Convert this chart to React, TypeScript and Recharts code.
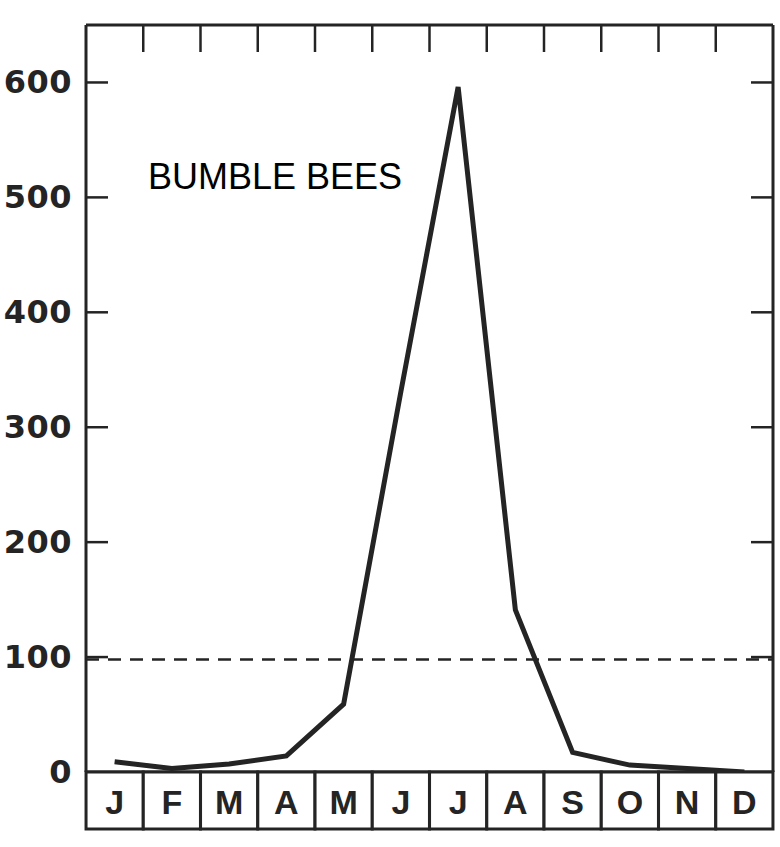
import React from 'react';
import { ComposedChart, Line, XAxis, YAxis, ReferenceLine } from 'recharts';

// monthly counts
const months = ['J', 'F', 'M', 'A', 'M', 'J', 'J', 'A', 'S', 'O', 'N', 'D'];
const beeCounts = [9, 3, 7, 14, 59, 331, 596, 141, 17, 6, 3, 0];
const yTicks = [0, 100, 200, 300, 400, 500, 600];
const innerTicks = [100, 200, 300, 400, 500, 600];
const monthIndex = [0, 1, 2, 3, 4, 5, 6, 7, 8, 9, 10, 11];
const monthBoundaries = [0.5, 1.5, 2.5, 3.5, 4.5, 5.5, 6.5, 7.5, 8.5, 9.5, 10.5];
const referenceLevel = 98;

const chartData = months.map((m, i) => ({ idx: monthIndex[i], month: m, bees: beeCounts[i] }));

const INK = '#242424';
const BOX_W = 686 / 12;

const MonthBox = (props: any) => {
    const { x, y, payload } = props;
    return (
        <g>
            <rect
                x={x - BOX_W / 2}
                y={y}
                width={BOX_W}
                height={57}
                fill="#fff"
                stroke={INK}
                strokeWidth={3}
            />
            <text
                x={x}
                y={y + 42}
                textAnchor="middle"
                fontFamily="'Liberation Sans', Arial, sans-serif"
                fontWeight="bold"
                fontSize={34}
                fill={INK}
            >
                {months[payload.value]}
            </text>
        </g>
    );
};

const YLabel = (props: any) => {
    const { x, y, payload } = props;
    return (
        <text
            x={x - 14}
            y={y + 11}
            textAnchor="end"
            fontFamily="'DejaVu Sans', sans-serif"
            fontWeight="bold"
            fontSize={32}
            letterSpacing={0.5}
            fill={INK}
        >
            {payload.value}
        </text>
    );
};

// tick lines only, no labels
const NoLabel = () => <g />;

const App: React.FC = () => {
    return (
        <div style={{ position: 'absolute', left: 0, top: 0, width: 780, height: 847, background: '#fff' }}>
            <ComposedChart
                width={780}
                height={847}
                data={chartData}
                margin={{ top: 25, right: 7, bottom: 17, left: 0 }}
            >
                <XAxis
                    dataKey="idx"
                    type="number"
                    domain={[-0.5, 11.5]}
                    allowDataOverflow
                    ticks={monthIndex}
                    interval={0}
                    height={58}
                    tickLine={false}
                    tickSize={0}
                    tickMargin={0}
                    axisLine={{ stroke: INK, strokeWidth: 3 }}
                    tick={<MonthBox />}
                />
                <XAxis
                    xAxisId="top"
                    dataKey="idx"
                    orientation="top"
                    mirror
                    type="number"
                    domain={[-0.5, 11.5]}
                    allowDataOverflow
                    ticks={monthBoundaries}
                    interval={0}
                    tick={<NoLabel />}
                    tickSize={27}
                    tickLine={{ stroke: INK, strokeWidth: 2.5 }}
                    axisLine={{ stroke: INK, strokeWidth: 3 }}
                />
                <YAxis
                    width={86}
                    domain={[0, 650]}
                    allowDataOverflow
                    ticks={yTicks}
                    interval={0}
                    tickLine={false}
                    tickSize={0}
                    tickMargin={0}
                    axisLine={{ stroke: INK, strokeWidth: 3 }}
                    tick={<YLabel />}
                />
                <YAxis
                    yAxisId="leftTicks"
                    mirror
                    type="number"
                    domain={[0, 650]}
                    allowDataOverflow
                    ticks={innerTicks}
                    interval={0}
                    tick={<NoLabel />}
                    tickSize={22}
                    tickLine={{ stroke: INK, strokeWidth: 2.5 }}
                    axisLine={false}
                />
                <YAxis
                    yAxisId="right"
                    orientation="right"
                    mirror
                    type="number"
                    domain={[0, 650]}
                    allowDataOverflow
                    ticks={innerTicks}
                    interval={0}
                    tick={<NoLabel />}
                    tickSize={22}
                    tickLine={{ stroke: INK, strokeWidth: 2.5 }}
                    axisLine={{ stroke: INK, strokeWidth: 3 }}
                />
                <ReferenceLine y={referenceLevel} stroke={INK} strokeWidth={2.5} strokeDasharray="13 9" />
                <Line
                    type="linear"
                    dataKey="bees"
                    stroke={INK}
                    strokeWidth={5}
                    strokeLinejoin="miter"
                    dot={false}
                    isAnimationActive={false}
                />
            </ComposedChart>
            <div
                style={{
                    position: 'absolute',
                    left: 148,
                    top: 159,
                    fontFamily: "'Liberation Sans', Arial, sans-serif",
                    fontSize: 36,
                    lineHeight: '36px',
                    color: '#000',
                    whiteSpace: 'nowrap',
                }}
            >
                BUMBLE BEES
            </div>
        </div>
    );
};

export default App;
